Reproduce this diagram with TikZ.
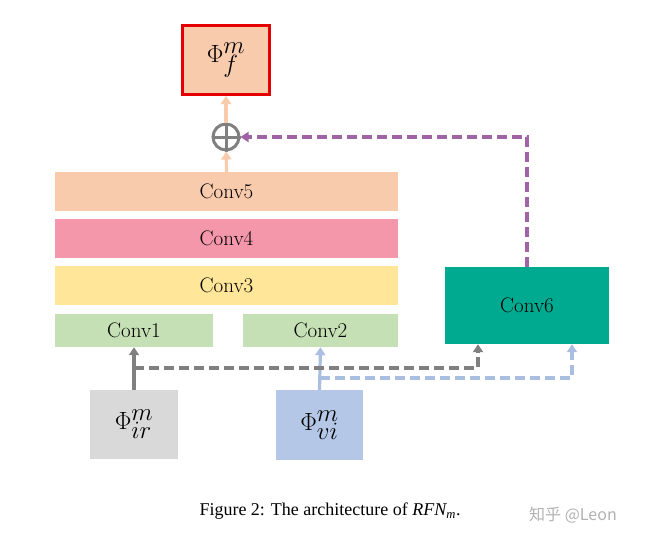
\documentclass[tikz,border=0pt]{standalone}
\usepackage{fontspec}
\newfontfamily\capfont{Liberation Serif}
\newfontfamily\cjk{Noto Sans CJK SC}
\usetikzlibrary{arrows.meta}
\definecolor{c5}{RGB}{248,203,173}
\definecolor{c4}{RGB}{244,151,170}
\definecolor{c3}{RGB}{255,230,153}
\definecolor{c12}{RGB}{197,224,180}
\definecolor{c6}{RGB}{0,170,144}
\definecolor{cir}{RGB}{217,217,217}
\definecolor{cvi}{RGB}{180,199,231}
\definecolor{gr}{RGB}{128,128,128}
\definecolor{pur}{RGB}{160,100,165}
\definecolor{lb}{RGB}{170,190,225}
\begin{document}
\begin{tikzpicture}[x=1pt,y=-1pt,
  box/.style={draw=none,minimum width=#1,inner sep=0pt,font=\fontsize{21}{24}\selectfont},
  phi/.style={font=\fontsize{34}{38}\selectfont},
  arr/.style={line width=3.2pt,-{Triangle[length=8pt,width=10pt]}},
  dsh/.style={arr,dash pattern=on 10pt off 5pt}]
\useasboundingbox[fill=white] (0,0) rectangle (647,542);
\node[box=343pt,minimum height=39pt,fill=c5] (c5) at (226.5,191.5) {Conv5};
\node[box=343pt,minimum height=39pt,fill=c4] (c4) at (226.5,238.5) {Conv4};
\node[box=343pt,minimum height=39pt,fill=c3] (c3) at (226.5,285.5) {Conv3};
\node[box=158pt,minimum height=33pt,fill=c12] (c1) at (134,330.5) {Conv1};
\node[box=155pt,minimum height=33pt,fill=c12] (c2) at (320.5,330.5) {Conv2};
\node[box=164pt,minimum height=77pt,fill=c6] (c6) at (527,305.5) {Conv6};
\node[box=88pt,minimum height=69pt,fill=cir,phi] (ir) at (134,424.5) {$\Phi_{ir}^m$};
\node[box=87pt,minimum height=70pt,fill=cvi,phi] (vi) at (319.5,425) {$\Phi_{vi}^m$};
\node[box=87pt,minimum height=69pt,fill=c5,draw=red!90!black,line width=3pt,phi] (f) at (226,60) {$\Phi_{f}^m$};
\node[circle,draw=gr,line width=3pt,minimum size=26pt,inner sep=0pt] (o) at (226,137) {};
\draw[gr,line width=3pt] (o.west)--(o.east) (o.north)--(o.south);
\draw[arr,c5] (c5.north) -- (o);
\draw[arr,c5] (o) -- (f);
\draw[dsh,pur] (c6.north) |- (o);
\draw[arr,gr] (ir.north) -- (c1.south);
\draw[arr,lb] (vi.north) -- (c2.south);
\coordinate (g1) at (134,368);
\coordinate (b1) at (320,378);
\draw[dsh,gr] (g1) -| ([xshift=-49pt]c6.south);
\draw[dsh,lb] (b1) -| ([xshift=45pt]c6.south);
\node[font=\capfont\fontsize{18}{21}\selectfont] (cap) at (330,511) {Figure 2: The architecture of \textit{RFN\textsubscript{m}}.};
\node[font=\cjk\fontsize{16}{18}\selectfont,text=gray!60] (wm) at (573,515) {知乎 @Leon};
\end{tikzpicture}
\end{document}
